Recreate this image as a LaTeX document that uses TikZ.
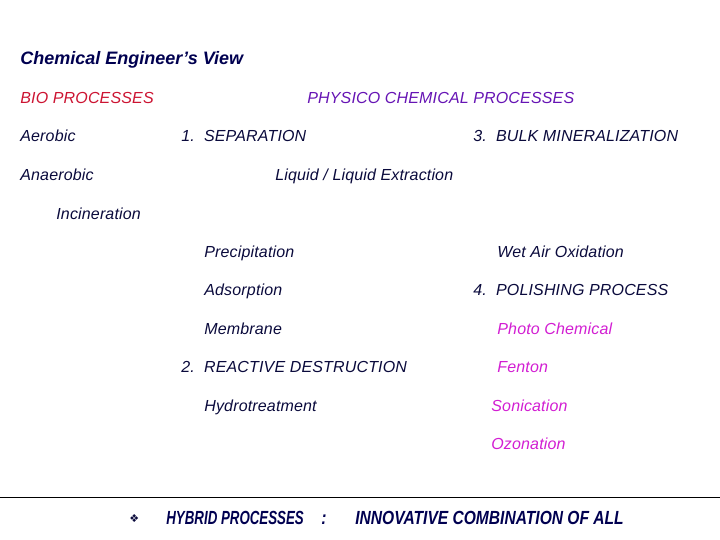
\documentclass[tikz,border=0pt]{standalone}
\usepackage{fontspec}
\setmainfont[LetterSpace=1]{Liberation Sans}
\newfontfamily\titlefont{Liberation Sans}
\newfontfamily\condfont[FakeStretch=0.82]{Liberation Sans}
\newfontfamily\narrowfont[FakeStretch=0.70]{Liberation Sans}
\newfontfamily\symfont{DejaVu Sans}
\usepackage{tikz}
\definecolor{mynavy}{RGB}{10, 10, 60}
\definecolor{mytitle}{RGB}{0, 0, 80}
\definecolor{myred}{RGB}{204, 20, 50}
\definecolor{mypurple}{RGB}{102, 20, 180}
\definecolor{mymagenta}{RGB}{210, 30, 210}
\tikzset{every picture/.style={line width=0.75pt}}
\tikzset{txt/.style={anchor=base west,inner sep=0pt,font=\fontsize{16}{19}\selectfont\itshape,text=mynavy}}

\begin{document}
\begin{tikzpicture}[x=1pt,y=1pt,yscale=-1,xscale=1]
\useasboundingbox (0,0) rectangle (720,540);

%Text Node [title]
\node [txt,font=\titlefont\fontsize{18}{21}\selectfont\bfseries\itshape,text=mytitle] (title) at (20,65) {Chemical Engineer’s View};
%Text Node [headings]
\node [txt,text=myred] (bio) at (20,103.7) {BIO PROCESSES};
\node [txt,text=mypurple] (physico) at (307,103.7) {PHYSICO CHEMICAL PROCESSES};
%Text Node [bio column]
\node [txt] (aerobic) at (20,142) {Aerobic};
\node [txt] (anaerobic) at (20,180.5) {Anaerobic};
\node [txt] (incin) at (56,219) {Incineration};
%Text Node [separation column]
\node [txt] (sep) at (181,142) {1.\ \ SEPARATION};
\node [txt] (liquid) at (275,180.5) {Liquid / Liquid Extraction};
\node [txt] (precip) at (204,257) {Precipitation};
\node [txt] (adsorp) at (204,295.5) {Adsorption};
\node [txt] (membrane) at (204,334) {Membrane};
\node [txt] (reactive) at (181,372.5) {2.\ \ REACTIVE DESTRUCTION};
\node [txt] (hydro) at (204,411) {Hydrotreatment};
%Text Node [mineralization column]
\node [txt] (bulk) at (473,142) {3.\ \ BULK MINERALIZATION};
\node [txt] (wetair) at (497,257) {Wet Air Oxidation};
\node [txt] (polish) at (473,295.5) {4.\ \ POLISHING PROCESS};
\node [txt,text=mymagenta] (photo) at (497,334) {Photo Chemical};
\node [txt,text=mymagenta] (fenton) at (497,372.5) {Fenton};
\node [txt,text=mymagenta] (sonic) at (491,411) {Sonication};
\node [txt,text=mymagenta] (ozon) at (491,449.5) {Ozonation};

%Straight Lines [separator]
\coordinate (lineL) at (0,497);
\coordinate (lineR) at (720,497);
\draw [color=black] (lineL) -- (lineR);

%Text Node [bottom line]
\node [anchor=base west,inner sep=0pt,font=\symfont\fontsize{11}{13}\selectfont,text=mynavy] (bullet) at (129,522) {❖};
\node [anchor=base west,inner sep=0pt,font=\narrowfont\fontsize{19}{22}\selectfont\bfseries\itshape,text=mytitle] (hybrid) at (166,524) {HYBRID PROCESSES};
\node [anchor=base west,inner sep=0pt,font=\condfont\fontsize{19}{22}\selectfont\bfseries\itshape,text=mytitle] (colon) at (321,524) {:};
\node [anchor=base west,inner sep=0pt,font=\condfont\fontsize{19}{22}\selectfont\bfseries\itshape,text=mytitle] (innov) at (355,524) {INNOVATIVE COMBINATION OF ALL};

\end{tikzpicture}
\end{document}
